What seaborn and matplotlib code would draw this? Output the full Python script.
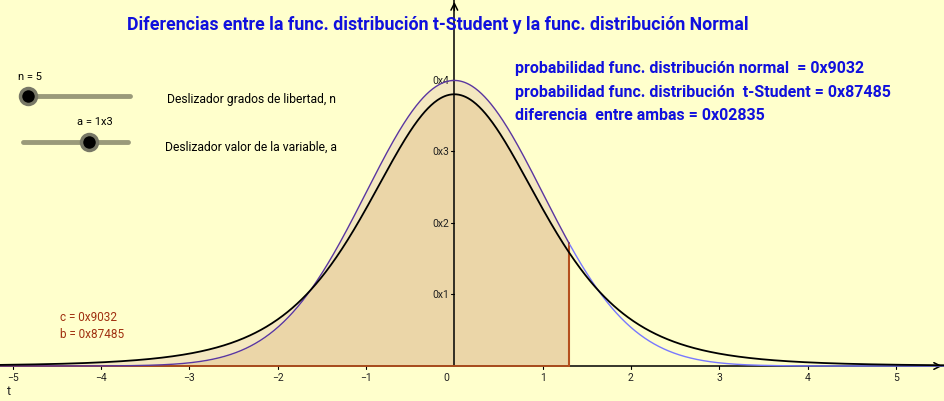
import math
import numpy as np
import pandas as pd
import matplotlib
matplotlib.use("Agg")
import matplotlib.pyplot as plt
import seaborn as sns

# parametros de los deslizadores
grados_libertad = 5
valor_a = 1.3

# textos con los resultados
titulo = "Diferencias entre la func. distribución t-Student y la func. distribución Normal"
textos_prob = [
    "probabilidad func. distribución normal  = 0x9032",
    "probabilidad func. distribución  t-Student = 0x87485",
    "diferencia  entre ambas = 0x02835",
]
textos_cb = ["c = 0x9032", "b = 0x87485"]
etiqueta_n = "n = 5"
etiqueta_a = "a = 1x3"

x_ticks = [-5, -4, -3, -2, -1, 0, 1, 2, 3, 4, 5]
x_tick_labels = ["\u22125", "\u22124", "\u22123", "\u22122", "\u22121", "0", "1", "2", "3", "4", "5"]
y_ticks = [0.1, 0.2, 0.3, 0.4]
y_tick_labels = ["0x1", "0x2", "0x3", "0x4"]

XMIN, XMAX = -5.145, 5.557
YMIN, YMAX = -0.0489, 0.5127
W, H = 945, 402

fondo = "#FFFFCC"
azul = "#1010DD"


def px(x, y):
    # pixel -> fraccion de ejes
    return x / W, 1 - y / H


def normal_pdf(x):
    return np.exp(-x ** 2 / 2) / math.sqrt(2 * math.pi)


def t_pdf(x, n):
    c = math.gamma((n + 1) / 2) / (math.sqrt(n * math.pi) * math.gamma(n / 2))
    return c * (1 + x ** 2 / n) ** (-(n + 1) / 2)


sns.set_theme(style="white")
plt.rcParams["font.family"] = ["Roboto", "DejaVu Sans"]

fig = plt.figure(figsize=(W / 100, H / 100), dpi=100, facecolor=fondo)
ax = fig.add_axes([0, 0, 1, 1])
ax.set_facecolor(fondo)
ax.set_xlim(XMIN, XMAX)
ax.set_ylim(YMIN, YMAX)
ax.axis("off")

xs = np.linspace(XMIN, XMAX, 1200)
df = pd.DataFrame({"x": xs, "normal": normal_pdf(xs), "t": t_pdf(xs, grados_libertad)})
izq = df[df["x"] <= valor_a]
der = df[df["x"] >= valor_a]

# rellenos hasta a
bajo = np.minimum(izq["normal"], izq["t"])
alto = np.maximum(izq["normal"], izq["t"])
ax.fill_between(izq["x"], 0, bajo, color="#EBD6A8", lw=0, zorder=1)
ax.fill_between(izq["x"], bajo, alto, color="#F4E8C0", lw=0, zorder=1)

# ejes
ax.plot([XMIN, XMAX], [0, 0], color="black", lw=1.1, zorder=3)
ax.plot([XMIN, valor_a], [0, 0], color="#B5501E", lw=1.3, zorder=4)
ax.plot([0, 0], [0, YMAX], color="black", lw=1.1, zorder=3)
ax.annotate("", xy=(XMAX, 0), xytext=(XMAX - 0.08, 0),
            arrowprops=dict(arrowstyle="->", color="black", lw=1.1), zorder=3)
ax.annotate("", xy=(0, YMAX), xytext=(0, YMAX - 0.02),
            arrowprops=dict(arrowstyle="->", color="black", lw=1.1), zorder=3)

for xt, lab in zip(x_ticks, x_tick_labels):
    if xt != 0:
        ax.plot([xt, xt], [0, -0.004], color="black", lw=0.8, zorder=3)
        ax.text(xt, -0.009, lab, ha="center", va="top", fontsize=7.5, color="#222222")
    else:
        ax.text(-0.06, -0.009, lab, ha="right", va="top", fontsize=7.5, color="#222222")
for yt, lab in zip(y_ticks, y_tick_labels):
    ax.plot([0, -0.04], [yt, yt], color="black", lw=0.8, zorder=3)
    ax.text(-0.06, yt, lab, ha="right", va="center", fontsize=7.5, color="#222222")

# curvas
sns.lineplot(data=izq, x="x", y="normal", ax=ax, color="#5A36A0", lw=1.0, zorder=5)
sns.lineplot(data=der, x="x", y="normal", ax=ax, color="#7878FF", lw=1.0, zorder=5)
sns.lineplot(data=df, x="x", y="t", ax=ax, color="black", lw=1.3, zorder=6)

# linea vertical en a
ax.plot([valor_a, valor_a], [0, normal_pdf(valor_a)], color="#B5501E", lw=1.5, zorder=4)

ax.text(*px(7, 392), "t", transform=ax.transAxes, fontsize=9, va="center", color="#222222")

# titulo y textos
ax.text(*px(438, 25), titulo, transform=ax.transAxes, ha="center", va="center",
        fontsize=12.8, fontweight="bold", color=azul)
for i, s in enumerate(textos_prob):
    ax.text(*px(515, 69 + i * 23), s, transform=ax.transAxes, ha="left", va="center",
            fontsize=11.5, fontweight="bold", color=azul)
for i, s in enumerate(textos_cb):
    ax.text(*px(60, 318 + i * 17), s, transform=ax.transAxes, ha="left", va="center",
            fontsize=8.5, color="#A03010")

# deslizadores
ax.text(*px(18, 77), etiqueta_n, transform=ax.transAxes, ha="left", va="center", fontsize=8, color="black")
ax.plot([28 / W, 130 / W], [1 - 97 / H, 1 - 97 / H], transform=ax.transAxes,
        color="#9A9A7A", lw=3.5, solid_capstyle="round", zorder=7)
ax.plot([28 / W], [1 - 97 / H], transform=ax.transAxes, marker="o", ms=11.5,
        color="black", mec="#777766", mew=2.5, zorder=8)
ax.text(*px(77, 122), etiqueta_a, transform=ax.transAxes, ha="left", va="center", fontsize=8, color="black")
ax.plot([23 / W, 128 / W], [1 - 143 / H, 1 - 143 / H], transform=ax.transAxes,
        color="#9A9A7A", lw=3.5, solid_capstyle="round", zorder=7)
ax.plot([89 / W], [1 - 143 / H], transform=ax.transAxes, marker="o", ms=11.5,
        color="black", mec="#777766", mew=2.5, zorder=8)
ax.text(*px(167, 100), "Deslizador grados de libertad, n", transform=ax.transAxes,
        ha="left", va="center", fontsize=8.7, color="black")
ax.text(*px(165, 147), "Deslizador valor de la variable, a", transform=ax.transAxes,
        ha="left", va="center", fontsize=8.7, color="black")

fig.savefig("out.png", dpi=100, facecolor=fondo)
